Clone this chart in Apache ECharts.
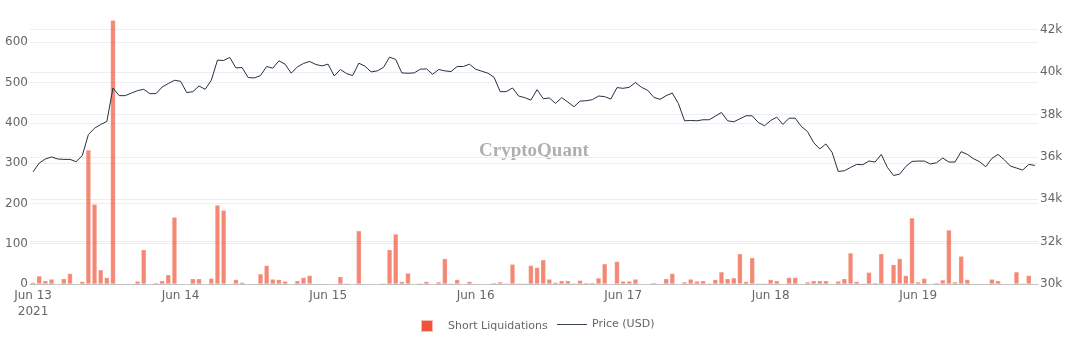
<!DOCTYPE html>
<html>
<head>
<meta charset="utf-8">
<title>Short Liquidations vs Price</title>
<script src="https://cdn.jsdelivr.net/npm/echarts@6/dist/echarts.min.js"></script>
<style>
  html, body { margin: 0; padding: 0; background: #fff; }
  #chart { width: 1068px; height: 340px; }
</style>
</head>
<body>
<div id="chart"></div>
<script>
// hourly data, Jun 13 2021 00:00 -> Jun 19 19:00
const startDate = new Date(2021, 5, 13, 0, 0)
const dayLabels = ['Jun 13', 'Jun 14', 'Jun 15', 'Jun 16', 'Jun 17', 'Jun 18', 'Jun 19']
const yearLabel = '2021'

// short liquidations per hour
const shortLiq = [
  4, 20, 8, 12, 0, 13, 26, 0, 6, 333, 198, 35, 16, 655, 1, 1, 1, 7, 85, 0, 3, 8, 23, 166,
  0, 0, 13, 13, 0, 14, 196, 183, 1, 11, 4, 0, 1, 25, 46, 12, 11, 7, 0, 8, 16, 21, 0, 1,
  0, 0, 18, 2, 0, 132, 0, 0, 0, 2, 85, 124, 6, 27, 0, 2, 6, 0, 5, 63, 2, 11, 0, 6,
  0, 0, 0, 3, 5, 2, 49, 2, 2, 46, 41, 60, 12, 4, 8, 8, 2, 9, 3, 3, 15, 50, 0, 56,
  7, 7, 12, 0, 0, 3, 0, 13, 26, 0, 5, 12, 7, 8, 2, 11, 30, 13, 15, 75, 6, 65, 2, 2,
  11, 8, 0, 16, 16, 0, 5, 8, 8, 8, 0, 7, 13, 77, 6, 2, 29, 3, 75, 0, 48, 63, 21, 164,
  5, 14, 0, 3, 10, 134, 5, 69, 11, 1, 1, 1, 12, 8, 0, 0, 30, 2, 21, 1
]

// BTC price (USD) per hour
const price = [
  35295, 35708, 35898, 35993, 35900, 35880, 35880, 35771, 36055, 37051, 37351, 37526,
  37668, 39249, 38887, 38887, 39011, 39125, 39186, 38982, 38982, 39296, 39457, 39613,
  39566, 39030, 39077, 39343, 39186, 39613, 40562, 40546, 40690, 40198, 40214, 39740,
  39724, 39835, 40263, 40183, 40530, 40373, 39946, 40245, 40406, 40501, 40358, 40292,
  40373, 39817, 40119, 39930, 39835, 40420, 40278, 40008, 40056, 40215, 40705, 40595,
  39960, 39945, 39960, 40135, 40150, 39898, 40119, 40056, 40024, 40263, 40263, 40370,
  40135, 40041, 39946, 39756, 39077, 39077, 39249, 38869, 38793, 38679, 39172, 38745,
  38777, 38522, 38793, 38584, 38365, 38631, 38647, 38698, 38869, 38840, 38726, 39267,
  39234, 39281, 39505, 39281, 39139, 38807, 38712, 38887, 39011, 38508, 37701, 37716,
  37701, 37749, 37749, 37920, 38095, 37701, 37654, 37796, 37938, 37938, 37620, 37464,
  37715, 37872, 37526, 37825, 37825, 37431, 37194, 36671, 36373, 36610, 36211, 35310,
  35343, 35500, 35642, 35627, 35803, 35755, 36116, 35500, 35120, 35186, 35547, 35784,
  35800, 35800, 35661, 35722, 35945, 35755, 35755, 36244, 36116, 35912, 35770, 35533,
  35927, 36116, 35865, 35566, 35471, 35376, 35642, 35594
]

// hour categories
const hours = []
for (let i = 0; i < shortLiq.length; i++) {
  const d = new Date(startDate.getTime() + i * 3600 * 1000)
  hours.push(d.getFullYear() + '-' + (d.getMonth() + 1) + '-' + d.getDate() + ' ' + d.getHours() + ':00')
}

const gridColor = '#ebeef2'
const textColor = '#666'
const lineColor = '#24313f'

const chart = echarts.init(document.getElementById('chart'), null, { renderer: 'canvas' })
chart.setOption({
  animation: false,
  textStyle: { fontFamily: 'DejaVu Sans' },
  grid: { left: 30, right: 30, top: 19, bottom: 56, containLabel: false },
  graphic: [
    {
      type: 'text',
      left: 479,
      top: 142,
      silent: true,
      style: {
        text: 'CryptoQuant',
        font: 'bold 19px "Liberation Serif"',
        fill: 'rgba(110,110,110,0.55)'
      }
    }
  ],
  legend: [
    {
      data: ['Short Liquidations'],
      left: 420,
      top: 319,
      padding: 0,
      itemWidth: 12,
      itemHeight: 12,
      icon: 'rect',
      itemStyle: { opacity: 1 },
      textStyle: { color: textColor, fontSize: 11, fontFamily: 'DejaVu Sans', padding: [0, 0, 0, 10] }
    },
    {
      data: ['Price (USD)'],
      left: 557,
      top: 319,
      padding: 0,
      itemWidth: 30,
      itemHeight: 12,
      icon: 'path://M0,5.5 L30,5.5 L30,6.5 L0,6.5 Z',
      itemStyle: { color: '#3a4552' },
      textStyle: { color: textColor, fontSize: 11, fontFamily: 'DejaVu Sans' }
    }
  ],
  xAxis: {
    type: 'category',
    data: hours,
    boundaryGap: true,
    axisTick: { show: false },
    axisLine: { lineStyle: { color: '#bdbdbd' } },
    splitLine: { show: false },
    axisLabel: {
      color: textColor,
      fontSize: 12,
      lineHeight: 16,
      margin: 4,
      interval: (idx) => idx % 24 === 0,
      formatter: (value, idx) => {
        const day = dayLabels[Math.floor(idx / 24)]
        return idx === 0 ? day + '\n' + yearLabel : day
      }
    }
  },
  yAxis: [
    {
      type: 'value',
      min: 0,
      max: 658,
      interval: 100,
      axisLine: { show: false },
      axisTick: { show: false },
      splitLine: { lineStyle: { color: [gridColor, gridColor, gridColor, gridColor, gridColor, gridColor, gridColor, 'rgba(0,0,0,0)'] } },
      axisLabel: { color: textColor, fontSize: 12, margin: 2, showMaxLabel: false }
    },
    {
      type: 'value',
      min: 30000,
      max: 42504,
      interval: 2000,
      axisLine: { show: false },
      axisTick: { show: false },
      splitLine: { lineStyle: { color: [gridColor, gridColor, gridColor, gridColor, gridColor, gridColor, gridColor, 'rgba(0,0,0,0)'] } },
      axisLabel: {
        color: textColor,
        fontSize: 12,
        margin: 2,
        showMaxLabel: false,
        formatter: (v) => (v / 1000) + 'k'
      }
    }
  ],
  series: [
    {
      name: 'Short Liquidations',
      type: 'bar',
      yAxisIndex: 0,
      data: shortLiq,
      barCategoryGap: '20%',
      itemStyle: {
        color: '#EF553B',
        opacity: 0.7,
        borderColor: 'rgba(255,255,255,0.6)',
        borderWidth: 0.5
      }
    },
    {
      name: 'Price (USD)',
      type: 'line',
      yAxisIndex: 1,
      data: price,
      symbol: 'none',
      showSymbol: false,
      lineStyle: { color: lineColor, width: 1 },
      itemStyle: { color: lineColor }
    }
  ]
})
</script>
</body>
</html>
